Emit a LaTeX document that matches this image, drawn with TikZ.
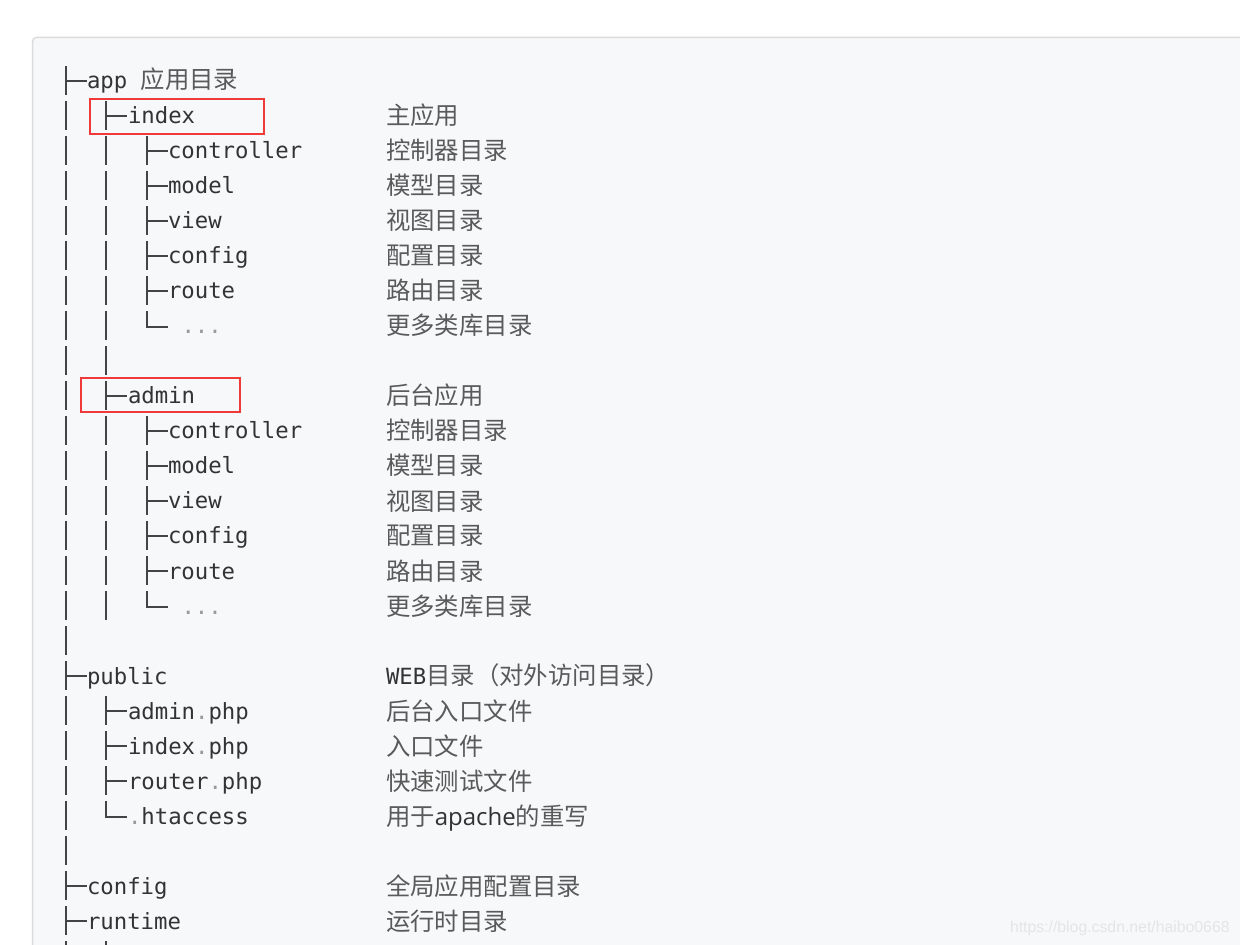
\documentclass[tikz,border=0pt]{standalone}
\usepackage{fontspec}
\newfontfamily\monof{DejaVu Sans Mono}
\newfontfamily\cjkf{Noto Sans CJK SC}
\newfontfamily\latf{Open Sans}
\newfontfamily\wmf{Liberation Sans}
\definecolor{codebg}{HTML}{F6F8FA}
\definecolor{bordc}{HTML}{DCDCDC}
\definecolor{txt}{HTML}{333333}
\definecolor{cjk}{HTML}{5A5A5A}
\definecolor{treec}{HTML}{444444}
\definecolor{dotc}{HTML}{9A9A9A}
\definecolor{redc}{HTML}{F03A3A}
\definecolor{wmc}{HTML}{E3E5E7}
\newcommand\cjkt[1]{{\cjkf\fontsize{12.2}{14}\selectfont\color{cjk}#1}}
\newcommand\gdot{{\color{dotc}.}}
\newcommand\trT[2]{\draw[tree] (#1,#2-15) -- (#1,#2+14) (#1,#2) -- (#1+21,#2);}
\newcommand\trI[2]{\draw[tree] (#1,#2-15) -- (#1,#2+14);}
\newcommand\trL[2]{\draw[tree] (#1,#2-15) -- (#1,#2+1) -- (#1+21,#2+1);}
\begin{document}
\begin{tikzpicture}[x=0.5pt,y=-0.5pt,
  mono/.style={font=\monof\fontsize{11.15}{13}\selectfont, text=txt, anchor=base west, inner sep=0pt, outer sep=0pt},
  desc/.style={font=\cjkf\fontsize{12.2}{14}\selectfont, text=cjk, anchor=base west, inner sep=0pt, outer sep=0pt},
  tree/.style={draw=treec, line width=0.7pt},
  redbox/.style={draw=redc, line width=1.4pt},
  wm/.style={font=\wmf\fontsize{7.9}{9}\selectfont, text=wmc, anchor=base east, inner sep=0pt}]
\useasboundingbox (0,0) rectangle (1240,945);
\fill[white] (0,0) rectangle (1240,945);
\clip (0,0) rectangle (1240,945);
\draw[fill=codebg, draw=bordc, line width=0.75pt, rounded corners=2pt] (32.5,37.5) rectangle (1300,1000);

% ---------- tree lines ----------
\trT{66}{81}
\foreach \y in {116,151,...,606} {\trI{66}{\y}}
\trT{106}{116}
\foreach \y in {151,186,...,361} {\trI{106}{\y}}
\foreach \y in {151,186,...,291} {\trT{147}{\y}}
\trL{147}{326}
\trT{106}{396}
\foreach \y in {431,466,...,606} {\trI{106}{\y}}
\foreach \y in {431,466,...,571} {\trT{147}{\y}}
\trL{147}{606}
\trI{66}{641}
\trT{66}{676}
\foreach \y in {711,746,...,851} {\trI{66}{\y}}
\foreach \y in {711,746,781} {\trT{106}{\y}}
\trL{106}{816}
\trT{66}{886}
\trT{66}{921}
\trT{66}{956}
\trI{106}{956}

% ---------- names ----------
\node[mono] (app) at (87,89) {app\ \cjkt{应用目录}};
\node[mono] (index) at (128,124) {index};
\node[mono] (ictrl) at (168,159) {controller};
\node[mono] (imodel) at (168,194) {model};
\node[mono] (iview) at (168,229) {view};
\node[mono] (iconf) at (168,264) {config};
\node[mono] (iroute) at (168,299) {route};
\node[mono, text=dotc] (imore) at (181.5,334) {...};
\node[mono] (admin) at (128,404) {admin};
\node[mono] (actrl) at (168,439) {controller};
\node[mono] (amodel) at (168,474) {model};
\node[mono] (aview) at (168,509) {view};
\node[mono] (aconf) at (168,544) {config};
\node[mono] (aroute) at (168,579) {route};
\node[mono, text=dotc] (amore) at (181.5,614) {...};
\node[mono] (public) at (87,684) {public};
\node[mono] (adminphp) at (128,719) {admin\gdot php};
\node[mono] (indexphp) at (128,754) {index\gdot php};
\node[mono] (routerphp) at (128,789) {router\gdot php};
\node[mono] (htaccess) at (128,824) {\gdot htaccess};
\node[mono] (config) at (87,894) {config};
\node[mono] (runtime) at (87,929) {runtime};

% ---------- descriptions ----------
\node[desc] (dindex) at (386,125) {主应用};
\node[desc] (dictrl) at (386,160) {控制器目录};
\node[desc] (dimodel) at (386,195) {模型目录};
\node[desc] (diview) at (386,230) {视图目录};
\node[desc] (diconf) at (386,265) {配置目录};
\node[desc] (diroute) at (386,300) {路由目录};
\node[desc] (dimore) at (386,335) {更多类库目录};
\node[desc] (dadmin) at (386,405) {后台应用};
\node[desc] (dactrl) at (386,440) {控制器目录};
\node[desc] (damodel) at (386,475) {模型目录};
\node[desc] (daview) at (386,510) {视图目录};
\node[desc] (daconf) at (386,545) {配置目录};
\node[desc] (daroute) at (386,580) {路由目录};
\node[desc] (damore) at (386,615) {更多类库目录};
\node[mono] (dpublic) at (386,684) {WEB\cjkt{目录（对外访问目录）}};
\node[desc] (dadminphp) at (386,720) {后台入口文件};
\node[desc] (dindexphp) at (386,755) {入口文件};
\node[desc] (drouterphp) at (386,790) {快速测试文件};
\node[desc] (dhtaccess) at (386,825) {用于{\latf\fontsize{12}{14}\selectfont\color{txt}apache}的重写};
\node[desc] (dconfig) at (386,895) {全局应用配置目录};
\node[desc] (druntime) at (386,930) {运行时目录};

% ---------- red highlight boxes ----------
\draw[redbox] (90,99) rectangle (264,134);
\draw[redbox] (81,378) rectangle (240,412);

% ---------- watermark ----------
\node[wm] (wmark) at (1230,932) {https://blog.csdn.net/haibo0668};
\end{tikzpicture}
\end{document}
